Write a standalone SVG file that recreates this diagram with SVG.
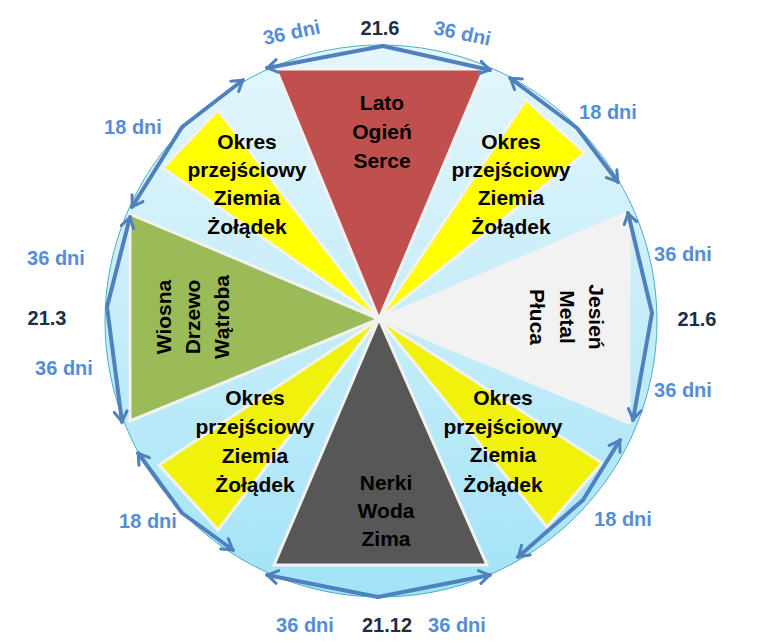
<svg xmlns="http://www.w3.org/2000/svg" width="759" height="643" viewBox="0 0 759 643">
<defs>
<linearGradient id="bg" x1="0" y1="0" x2="0" y2="1">
<stop offset="0" stop-color="#E4F6FC"/>
<stop offset="0.5" stop-color="#C6EDF9"/>
<stop offset="1" stop-color="#A2E3F7"/>
</linearGradient>
<marker id="ah" viewBox="0 0 13 16" refX="12" refY="8" markerWidth="13" markerHeight="16" markerUnits="userSpaceOnUse" orient="auto-start-reverse">
<path d="M1.5,1.5 L11.5,8 L1.5,14.5" fill="none" stroke="#4F81BD" stroke-width="3" stroke-linecap="round" stroke-linejoin="round"/>
</marker>
</defs>
<style>
text{font-family:"Liberation Sans",Arial,sans-serif;font-weight:bold;text-anchor:middle}
.t{font-size:21px;fill:#000}
.d{font-size:20px;fill:#558ED5}
.n{font-size:20px;fill:#1F2D45}
.tri{stroke:#F2F2F2;stroke-width:3;stroke-linejoin:miter}
.arr{fill:none;stroke:#4F81BD;stroke-width:4;stroke-linejoin:round;stroke-linecap:round}
</style>
<rect width="759" height="643" fill="#FFFFFF"/>
<g id="circle">
<circle cx="381" cy="321" r="276" fill="url(#bg)" stroke="#4BACC6" stroke-width="1"/>
</g>
<g id="lato">
<polygon class="tri" points="379,319 276,69 484,69" fill="#C0504D"/>
<text class="t" x="382" y="110">Lato</text>
<text class="t" x="382" y="139">Ogień</text>
<text class="t" x="382" y="168">Serce</text>
</g>
<g id="wiosna">
<polygon class="tri" points="379,319 130,214 130,421" fill="#9BBB59"/>
<text class="t" transform="translate(164,317) rotate(-90)" x="0" y="7">Wiosna</text>
<text class="t" transform="translate(193,317) rotate(-90)" x="0" y="7">Drzewo</text>
<text class="t" transform="translate(222,317) rotate(-90)" x="0" y="7">Wątroba</text>
</g>
<g id="jesien">
<polygon class="tri" points="379,319 629,212 629,423" fill="#F2F2F2" stroke="#E6E6E6"/>
<text class="t" transform="translate(596,317) rotate(90)" x="0" y="7">Jesień</text>
<text class="t" transform="translate(567,317) rotate(90)" x="0" y="7">Metal</text>
<text class="t" transform="translate(537,317) rotate(90)" x="0" y="7">Płuca</text>
</g>
<g id="zima">
<polygon class="tri" points="379,319 274,565 487,565" fill="#575757"/>
<text class="t" x="386" y="490">Nerki</text>
<text class="t" x="386" y="518">Woda</text>
<text class="t" x="386" y="546">Zima</text>
</g>
<g id="okres-tl">
<polygon class="tri" points="379,319 218,110 163,168" fill="#FFFF00"/>
<text class="t" x="247" y="149">Okres</text>
<text class="t" x="247" y="177">przejściowy</text>
<text class="t" x="247" y="205">Ziemia</text>
<text class="t" x="247" y="234">Żołądek</text>
</g>
<g id="okres-tr">
<polygon class="tri" points="379,319 526,100 585,153" fill="#FFFF00"/>
<text class="t" x="511" y="149">Okres</text>
<text class="t" x="511" y="177">przejściowy</text>
<text class="t" x="511" y="205">Ziemia</text>
<text class="t" x="511" y="234">Żołądek</text>
</g>
<g id="okres-bl">
<polygon class="tri" points="379,319 159,465 218,530" fill="#F0F20C"/>
<text class="t" x="255" y="405">Okres</text>
<text class="t" x="255" y="434">przejściowy</text>
<text class="t" x="255" y="463">Ziemia</text>
<text class="t" x="255" y="492">Żołądek</text>
</g>
<g id="okres-br">
<polygon class="tri" points="379,319 602,463 547,527" fill="#F0F20C"/>
<text class="t" x="503" y="405">Okres</text>
<text class="t" x="503" y="434">przejściowy</text>
<text class="t" x="503" y="462">Ziemia</text>
<text class="t" x="503" y="492">Żołądek</text>
</g>
<g id="connectors">
<polyline class="arr" points="383,46 267,68" marker-end="url(#ah)"/>
<polyline class="arr" points="383,46 490,70" marker-end="url(#ah)"/>
<polyline class="arr" points="510,78 577,128 618,182" marker-start="url(#ah)" marker-end="url(#ah)"/>
<polyline class="arr" points="652,313 628,213" marker-end="url(#ah)"/>
<polyline class="arr" points="652,313 633,420" marker-end="url(#ah)"/>
<polyline class="arr" points="620,440 583,500 518,557" marker-start="url(#ah)" marker-end="url(#ah)"/>
<polyline class="arr" points="378,597 267,575" marker-end="url(#ah)"/>
<polyline class="arr" points="378,597 490,575" marker-end="url(#ah)"/>
<polyline class="arr" points="138,453 182,513 233,550" marker-start="url(#ah)" marker-end="url(#ah)"/>
<polyline class="arr" points="107,307 130,217" marker-end="url(#ah)"/>
<polyline class="arr" points="107,307 122,422" marker-end="url(#ah)"/>
<polyline class="arr" points="132,207 182,127 243,80" marker-start="url(#ah)" marker-end="url(#ah)"/>
</g>
<g id="labels">
<text class="d" transform="translate(293,39) rotate(-12)">36 dni</text>
<text class="n" x="380" y="35">21.6</text>
<text class="d" transform="translate(461,40) rotate(12)">36 dni</text>
<text class="d" x="133" y="134">18 dni</text>
<text class="d" x="608" y="119">18 dni</text>
<text class="d" x="56" y="265">36 dni</text>
<text class="n" x="47" y="325">21.3</text>
<text class="d" x="64" y="375">36 dni</text>
<text class="d" x="683" y="261">36 dni</text>
<text class="n" x="697" y="326">21.6</text>
<text class="d" x="683" y="397">36 dni</text>
<text class="d" x="148" y="528">18 dni</text>
<text class="d" x="623" y="526">18 dni</text>
<text class="d" x="305" y="632">36 dni</text>
<text class="n" x="387" y="632">21.12</text>
<text class="d" x="457" y="632">36 dni</text>
</g>
</svg>
